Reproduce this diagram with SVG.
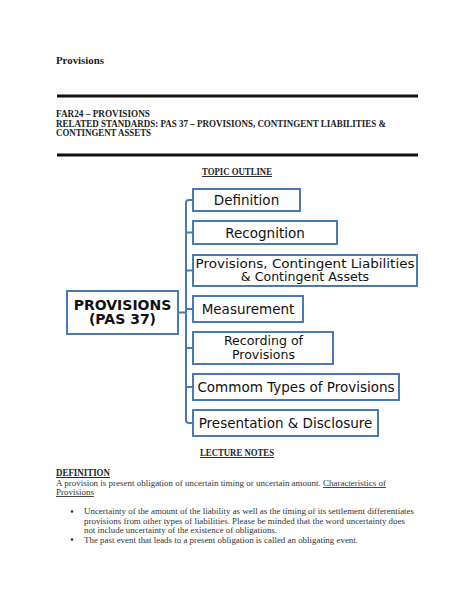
<svg xmlns="http://www.w3.org/2000/svg" width="474" height="613" viewBox="0 0 474 613">
<style>
.hd{font-family:"Liberation Serif",serif;font-weight:bold;fill:#222;font-size:9.5px}
.bd{font-family:"Liberation Serif",serif;fill:#333;font-size:9px}
.bx{fill:#fff;stroke:#4a7ab5;stroke-width:2}
.lb{font-family:"DejaVu Sans",Verdana,sans-serif;font-size:13.5px;fill:#111;text-anchor:middle}
.l2{font-size:12.6px}
.rt{font-family:"DejaVu Sans",Verdana,sans-serif;font-size:14px;font-weight:bold;fill:#111;text-anchor:middle}
.cn{fill:none;stroke:#4a7ab5;stroke-width:2}
.rule{stroke:#111;stroke-width:3}
</style>
<rect width="474" height="613" fill="#fff"/>
<text class="hd" x="56" y="64" font-size="11" textLength="48" lengthAdjust="spacingAndGlyphs">Provisions</text>
<line class="rule" x1="57" y1="96" x2="418" y2="96"/>
<text class="hd" x="56" y="117" textLength="94" lengthAdjust="spacingAndGlyphs">FAR24 – PROVISIONS</text>
<text class="hd" x="56" y="126.5" textLength="330" lengthAdjust="spacingAndGlyphs">RELATED STANDARDS: PAS 37 – PROVISIONS, CONTINGENT LIABILITIES &amp;</text>
<text class="hd" x="56" y="136" textLength="95" lengthAdjust="spacingAndGlyphs">CONTINGENT ASSETS</text>
<line class="rule" x1="57" y1="155" x2="418" y2="155"/>
<text class="hd" x="237" y="175" text-anchor="middle" text-decoration="underline" textLength="70" lengthAdjust="spacingAndGlyphs">TOPIC OUTLINE</text>

<g id="connectors">
<path class="cn" d="M193 200 H189 Q186 200 186 203 V420 Q186 423 189 423 H193"/>
<path class="cn" d="M186 232.5 H193 M186 270.5 H193 M186 309 H193 M186 348 H193 M186 387 H193 M178 312.5 H186"/>
</g>

<g id="root">
<rect class="bx" x="67" y="291" width="111" height="43"/>
<text class="rt" x="122.5" y="309.5" font-size="13.5">PROVISIONS</text>
<text class="rt" x="122.5" y="323.5" font-size="13.5">(PAS 37)</text>
</g>
<g id="n-definition">
<rect class="bx" x="193" y="189" width="107" height="22"/>
<text class="lb" x="246.5" y="205">Definition</text>
</g>
<g id="n-recognition">
<rect class="bx" x="193" y="221" width="144" height="23"/>
<text class="lb" x="265" y="237.5">Recognition</text>
</g>
<g id="n-contingent">
<rect class="bx" x="193" y="255" width="224" height="31"/>
<text class="lb l2" x="305" y="267.5" textLength="219" lengthAdjust="spacingAndGlyphs">Provisions, Contingent Liabilities</text>
<text class="lb l2" x="305" y="280.5">&amp; Contingent Assets</text>
</g>
<g id="n-measurement">
<rect class="bx" x="193" y="296" width="110" height="26"/>
<text class="lb" x="248" y="313.5">Measurement</text>
</g>
<g id="n-recording">
<rect class="bx" x="193" y="332" width="140" height="32"/>
<text class="lb l2" x="263.5" y="345">Recording of</text>
<text class="lb l2" x="263.5" y="358.5">Provisions</text>
</g>
<g id="n-types">
<rect class="bx" x="193" y="374" width="206" height="26"/>
<text class="lb" x="296" y="391.5">Commom Types of Provisions</text>
</g>
<g id="n-presentation">
<rect class="bx" x="193" y="410" width="185" height="26"/>
<text class="lb" x="285.5" y="427.5">Presentation &amp; Disclosure</text>
</g>

<text class="hd" x="237" y="456" text-anchor="middle" text-decoration="underline" textLength="74" lengthAdjust="spacingAndGlyphs">LECTURE NOTES</text>
<text class="hd" x="56" y="476" text-decoration="underline" textLength="54" lengthAdjust="spacingAndGlyphs">DEFINITION</text>
<text class="bd" x="56" y="486" textLength="330" lengthAdjust="spacingAndGlyphs">A provision is present obligation of uncertain timing or uncertain amount. <tspan text-decoration="underline">Characteristics of</tspan></text>
<text class="bd" x="56" y="495" text-decoration="underline" textLength="38" lengthAdjust="spacingAndGlyphs">Provisions</text>
<circle cx="72" cy="511.5" r="1.3" fill="#333"/>
<text class="bd" x="84" y="514" textLength="330" lengthAdjust="spacingAndGlyphs">Uncertainty of the amount of the liability as well as the timing of its settlement differentiates</text>
<text class="bd" x="84" y="523.5" textLength="321" lengthAdjust="spacingAndGlyphs">provisions from other types of liabilities. Please be minded that the word uncertainty does</text>
<text class="bd" x="84" y="533" textLength="193" lengthAdjust="spacingAndGlyphs">not include uncertainty of the existence of obligations.</text>
<circle cx="72" cy="539.5" r="1.3" fill="#333"/>
<text class="bd" x="84" y="542.5" textLength="274" lengthAdjust="spacingAndGlyphs">The past event that leads to a present obligation is called an obligating event.</text>
</svg>
